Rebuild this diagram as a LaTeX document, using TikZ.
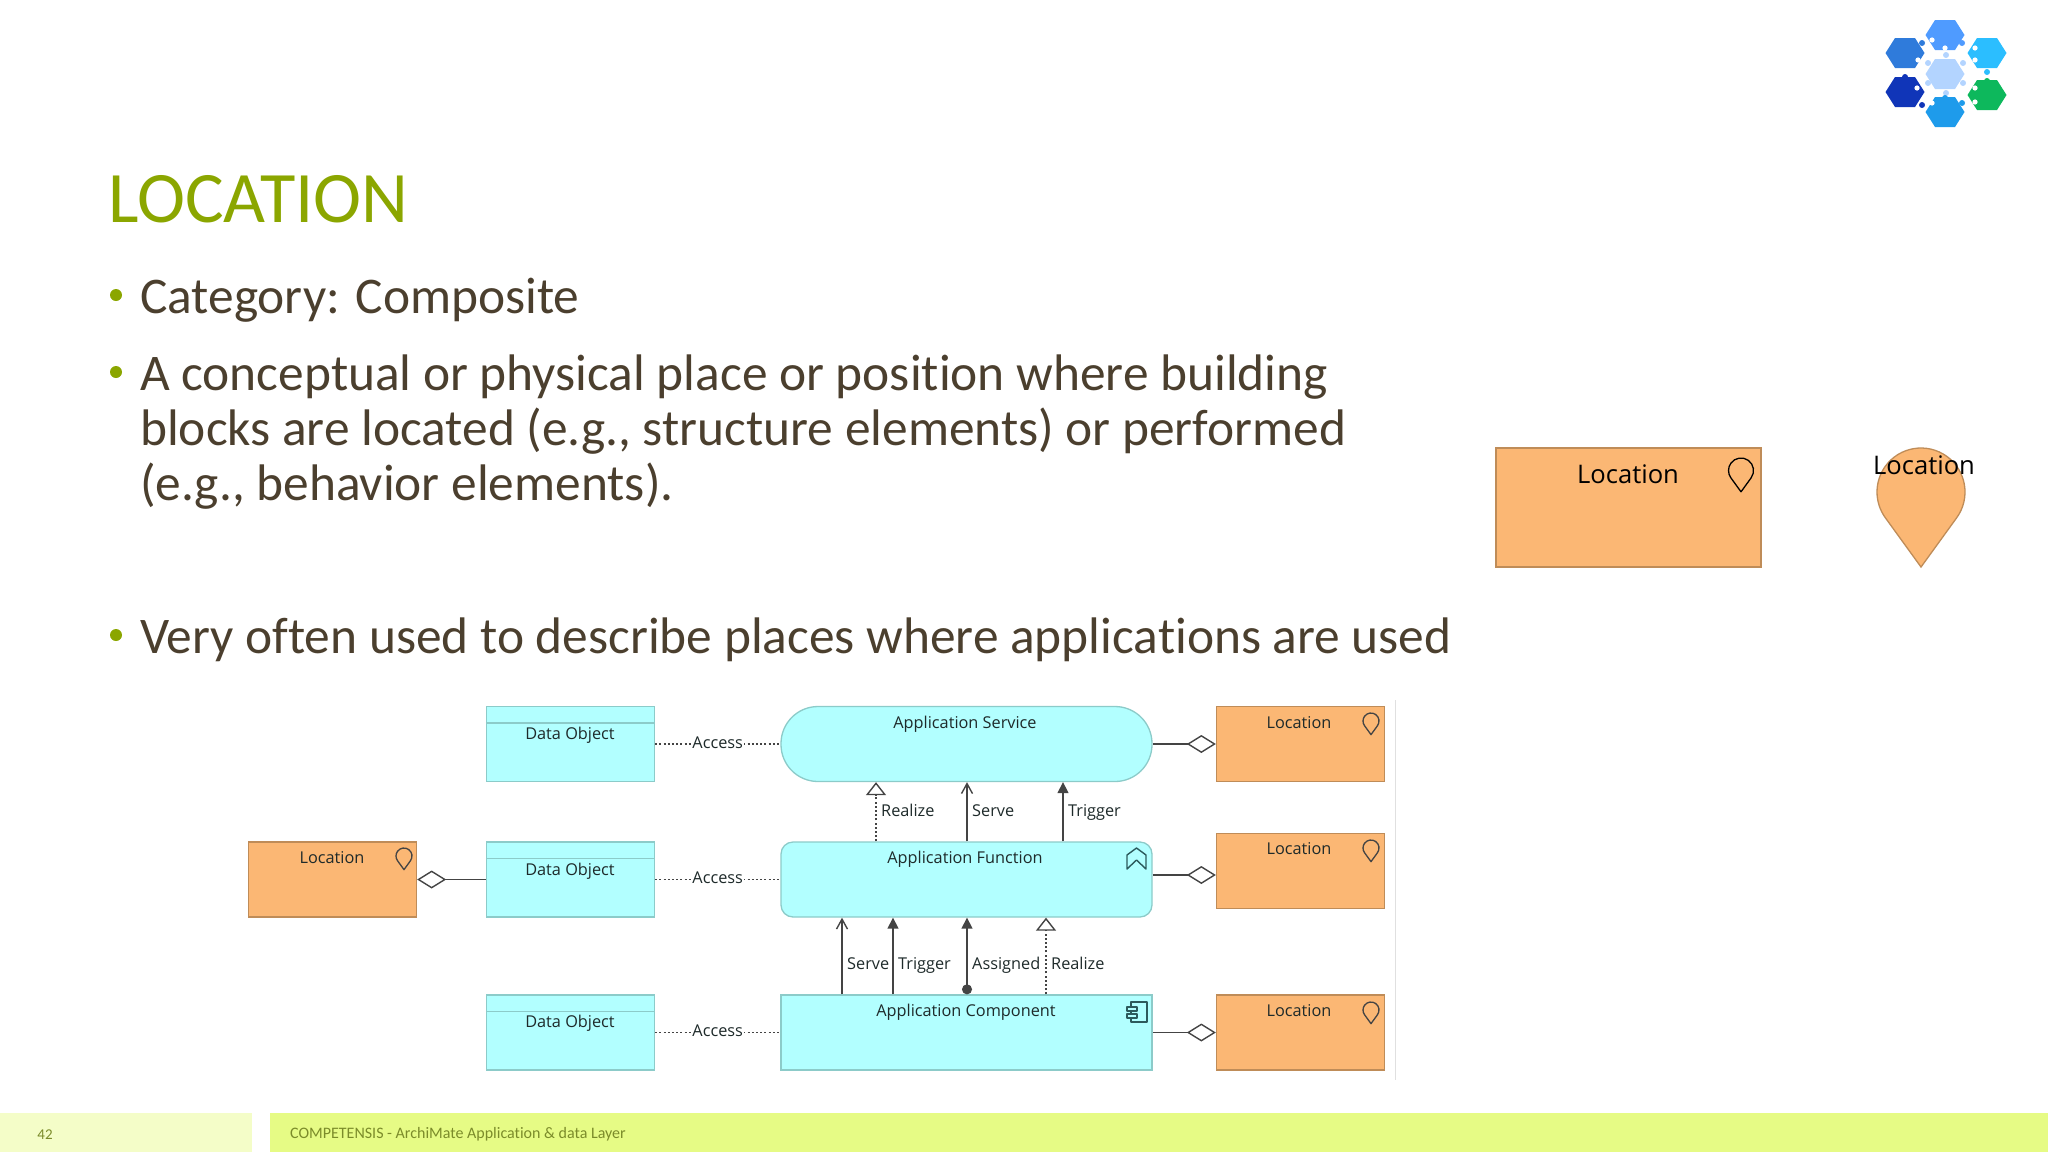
\documentclass[tikz,border=0pt]{standalone}
\usepackage{fontspec}
\setmainfont[Ligatures=NoCommon]{Carlito}
\newfontfamily\diagfont{Open Sans}
\usetikzlibrary{calc,arrows.meta}
\definecolor{olivehead}{HTML}{8BA600}
\definecolor{bodybrown}{HTML}{4B3F2E}
\definecolor{appfill}{HTML}{B2FFFF}
\definecolor{appedge}{HTML}{8CCBC9}
\definecolor{locfill}{HTML}{FBB774}
\definecolor{locedge}{HTML}{BF8C58}
\definecolor{linegrey}{HTML}{444444}
\definecolor{notetext}{HTML}{1E2A2A}
\definecolor{icongreen}{HTML}{2C5A5C}
\definecolor{footpale}{HTML}{F4FDC8}
\definecolor{footlime}{HTML}{E6FB85}
\definecolor{foottext}{HTML}{7B8B2A}
\tikzset{
    slidetext/.style={anchor=base west,inner sep=0pt,text=bodybrown,font=\fontsize{51.4}{52}\selectfont},
    blt/.style={circle,fill=olivehead,inner sep=0pt,minimum size=12pt},
    appbox/.style={draw=appedge,fill=appfill,line width=1.3pt,inner sep=0pt,minimum width=371pt,minimum height=75pt},
    databox/.style={draw=appedge,fill=appfill,line width=1.3pt,inner sep=0pt,minimum width=168pt,minimum height=75pt},
    locbox/.style={draw=locedge,fill=locfill,line width=1.3pt,inner sep=0pt,minimum width=168pt,minimum height=75pt},
    boxtext/.style={inner sep=0pt,text height=12pt,text depth=4pt,text=notetext,font=\diagfont\fontsize{16.3}{17}\selectfont},
    linktext/.style={boxtext,anchor=west},
    accesstext/.style={boxtext,midway,fill=white,inner sep=1pt},
    bigtext/.style={inner sep=0pt,text=black,font=\diagfont\fontsize{25.6}{26}\selectfont},
    plainline/.style={draw=linegrey,line width=1.4pt},
    dotline/.style={draw=linegrey,line width=1.4pt,dash pattern=on 2pt off 2.2pt},
    servetip/.style={-{Straight Barb[length=10pt,width=11pt]}},
    triggertip/.style={-{Triangle[length=11pt,width=11pt]}},
    realizetip/.style={-{Triangle[open,fill=white,length=13pt,width=20pt]}},
    aggline/.style={plainline,{Diamond[open,fill=white,length=29pt,width=18pt]}-},
    iconline/.style={draw=icongreen,line width=1.4pt,line join=round},
    pinline/.style={draw=linegrey,line width=1.3pt,line join=round}
}
% pin outline: centre x, centre y, radius, style
\newcommand{\pinshape}[4]{\draw[#4] (#1,#2) ++(-35.9:#3pt) arc[start angle=-35.9,end angle=215.9,radius=#3pt] -- ($(#1,#2)+(-90:1.705*#3pt)$) -- cycle;}
\begin{document}
\begin{tikzpicture}[x=1pt,y=-1pt]
    \useasboundingbox (0,0) rectangle (2048,1152);
    % logo
    \foreach \cx/\cy/\col in {1945/35/4F9BFF,1905/53/2F7BDB,1987/53/2BBEFF,1945/74/B3D4FF,1905/92/1035B8,1987/95/0DB85C,1945/112/1E9BEB} {
        \definecolor{hexcol}{HTML}{\col}
        \fill[hexcol] (\cx-19.5,\cy) -- (\cx-10,\cy-15) -- (\cx+10,\cy-15) -- (\cx+19.5,\cy) -- (\cx+10,\cy+15) -- (\cx-10,\cy+15) -- cycle;
    }
    \foreach \cx/\cy/\col in {1922/43/2F7BDB,1962/43/4F9BFF,1987/72/2BBEFF,1946/55/B3D4FF,1928/63/B3D4FF,1963/63/B3D4FF,1928/83/B3D4FF,1963/83/B3D4FF,1946/93/B3D4FF,1905/77/1035B8,1922/105/1035B8,1987/81/0DB85C,1945/98/1E9BEB,1962/103/1E9BEB} {
        \definecolor{hexcol}{HTML}{\col}
        \fill[hexcol] (\cx,\cy) circle (3pt);
    }
    \foreach \cx/\cy in {1918/60,1932/40,1945/48,1975/48,1975/60,1917/88,1975/88,1975/102,1932/103} {
        \fill[white] (\cx,\cy) circle (2.6pt);
    }
    % slide text
    \node[anchor=base west,inner sep=0pt,text=olivehead,font=\fontsize{72.5}{73}\selectfont] (heading) at (108,222) {LOCATION};
    \node[blt] (blta) at (116,295) {};
    \node[slidetext] (linea) at (140,313) {Category: Composite};
    \node[blt] (bltb) at (116,372) {};
    \node[slidetext] (lineb) at (140,390) {A conceptual or physical place or position where building};
    \node[slidetext] (linec) at (140,445) {blocks are located (e.g., structure elements) or performed};
    \node[slidetext] (lined) at (140,500) {(e.g., behavior elements).};
    \node[blt] (bltc) at (116,635) {};
    \node[slidetext] (linee) at (140,653) {Very often used to describe places where applications are used};
    % the two notations
    \node[locbox,minimum width=265pt,minimum height=119pt] (locbig) at (1628.5,507.5) {};
    \node[bigtext] (locbigtext) at (1628,474) {Location};
    \pinshape{1741}{470.5}{12.5}{pinline,draw=black}
    \pinshape{1921}{492}{44}{draw=locedge,fill=locfill,line width=1.3pt}
    \node[bigtext] (dropname) at (1924,465) {Location};
    % elements
    \node[appbox,rounded corners=37pt] (svc) at (966.5,744) {};
    \node[appbox,rounded corners=12pt] (func) at (966.5,879.5) {};
    \node[appbox] (comp) at (966.5,1032.5) {};
    \node[databox] (dataa) at (570.5,744) {};
    \node[databox] (datab) at (570.5,879.5) {};
    \node[databox] (datac) at (570.5,1032.5) {};
    \draw[draw=appedge,line width=1.3pt] ($(dataa.north west)+(0,17)$) -- ($(dataa.north east)+(0,17)$);
    \draw[draw=appedge,line width=1.3pt] ($(datab.north west)+(0,17)$) -- ($(datab.north east)+(0,17)$);
    \draw[draw=appedge,line width=1.3pt] ($(datac.north west)+(0,17)$) -- ($(datac.north east)+(0,17)$);
    \node[locbox] (locl) at (332.5,879.5) {};
    \node[locbox] (loca) at (1300.5,744) {};
    \node[locbox] (locb) at (1300.5,871) {};
    \node[locbox] (locc) at (1300.5,1032.5) {};
    % element names
    \node[boxtext] (svcname) at (965,724) {Application Service};
    \node[boxtext] (funcname) at (965,859) {Application Function};
    \node[boxtext] (compname) at (966,1012) {Application Component};
    \node[boxtext] (dataaname) at (570,735) {Data Object};
    \node[boxtext] (databname) at (570,871) {Data Object};
    \node[boxtext] (datacname) at (570,1023) {Data Object};
    \node[boxtext] (loclname) at (332,859) {Location};
    \node[boxtext] (locaname) at (1299,724) {Location};
    \node[boxtext] (locbname) at (1299,850) {Location};
    \node[boxtext] (loccname) at (1299,1012) {Location};
    % icons
    \pinshape{404}{856}{8}{pinline}
    \pinshape{1371}{721}{8}{pinline}
    \pinshape{1371}{848}{8}{pinline}
    \pinshape{1371}{1010}{8}{pinline}
    \draw[iconline] (1127,869) -- (1127,855) -- (1136.5,848) -- (1146,855) -- (1146,869) -- (1136.5,860) -- cycle;
    \draw[iconline] (1131,1002) -- (1147,1002) -- (1147,1022) -- (1131,1022) -- cycle;
    \draw[iconline,fill=appfill] (1127,1007) rectangle (1137,1011);
    \draw[iconline,fill=appfill] (1127,1014) rectangle (1137,1018);
    % access
    \draw[dotline] (dataa.east) -- node[accesstext] (accessa) {Access} (svc.west);
    \draw[dotline] (datab.east) -- node[accesstext] (accessb) {Access} (func.west);
    \draw[dotline] (datac.east) -- node[accesstext] (accessc) {Access} (comp.west);
    % aggregation
    \draw[aggline] (locl.east) -- (datab.west);
    \draw[aggline] (loca.west) -- (svc.east);
    \draw[aggline] (locb.west |- 1216,875) -- (func.east |- 1216,875);
    \draw[aggline] (locc.west) -- (comp.east);
    % function to service
    \draw[dotline,realizetip] (func.north -| 876,0) -- (svc.south -| 876,0);
    \draw[plainline,servetip] (func.north -| 967,0) -- (svc.south -| 967,0);
    \draw[plainline,triggertip] (func.north -| 1063,0) -- (svc.south -| 1063,0);
    \node[linktext] (realizea) at (881,812) {Realize};
    \node[linktext] (servea) at (972,812) {Serve};
    \node[linktext] (triggera) at (1068,812) {Trigger};
    % component to function
    \draw[plainline,servetip] (comp.north -| 842,0) -- (func.south -| 842,0);
    \draw[plainline,triggertip] (comp.north -| 893,0) -- (func.south -| 893,0);
    \draw[plainline,{Circle[length=10pt]}-{Triangle[length=11pt,width=11pt]}] (comp.north -| 967,0) -- (func.south -| 967,0);
    \draw[dotline,realizetip] (comp.north -| 1046,0) -- (func.south -| 1046,0);
    \node[linktext] (serveb) at (847,965) {Serve};
    \node[linktext] (triggerb) at (898,965) {Trigger};
    \node[linktext] (assignedb) at (972,965) {Assigned};
    \node[linktext] (realizeb) at (1051,965) {Realize};
    % edge of the pasted picture
    \draw[draw=black!12,line width=1pt] (1395,700) -- (1395,1080);
    % footer
    \node[anchor=north west,inner sep=0pt,fill=footpale,minimum width=252pt,minimum height=39pt] (footleft) at (0,1113) {};
    \node[anchor=north west,inner sep=0pt,fill=footlime,minimum width=1778pt,minimum height=39pt] (footright) at (270,1113) {};
    \node[inner sep=0pt,text=foottext,font=\fontsize{15}{15}\selectfont] (pagenum) at (45,1135) {42};
    \node[anchor=west,inner sep=0pt,text=foottext,font=\fontsize{16}{16}\selectfont] (footline) at (290,1134) {COMPETENSIS - ArchiMate Application \& data Layer};
\end{tikzpicture}
\end{document}
